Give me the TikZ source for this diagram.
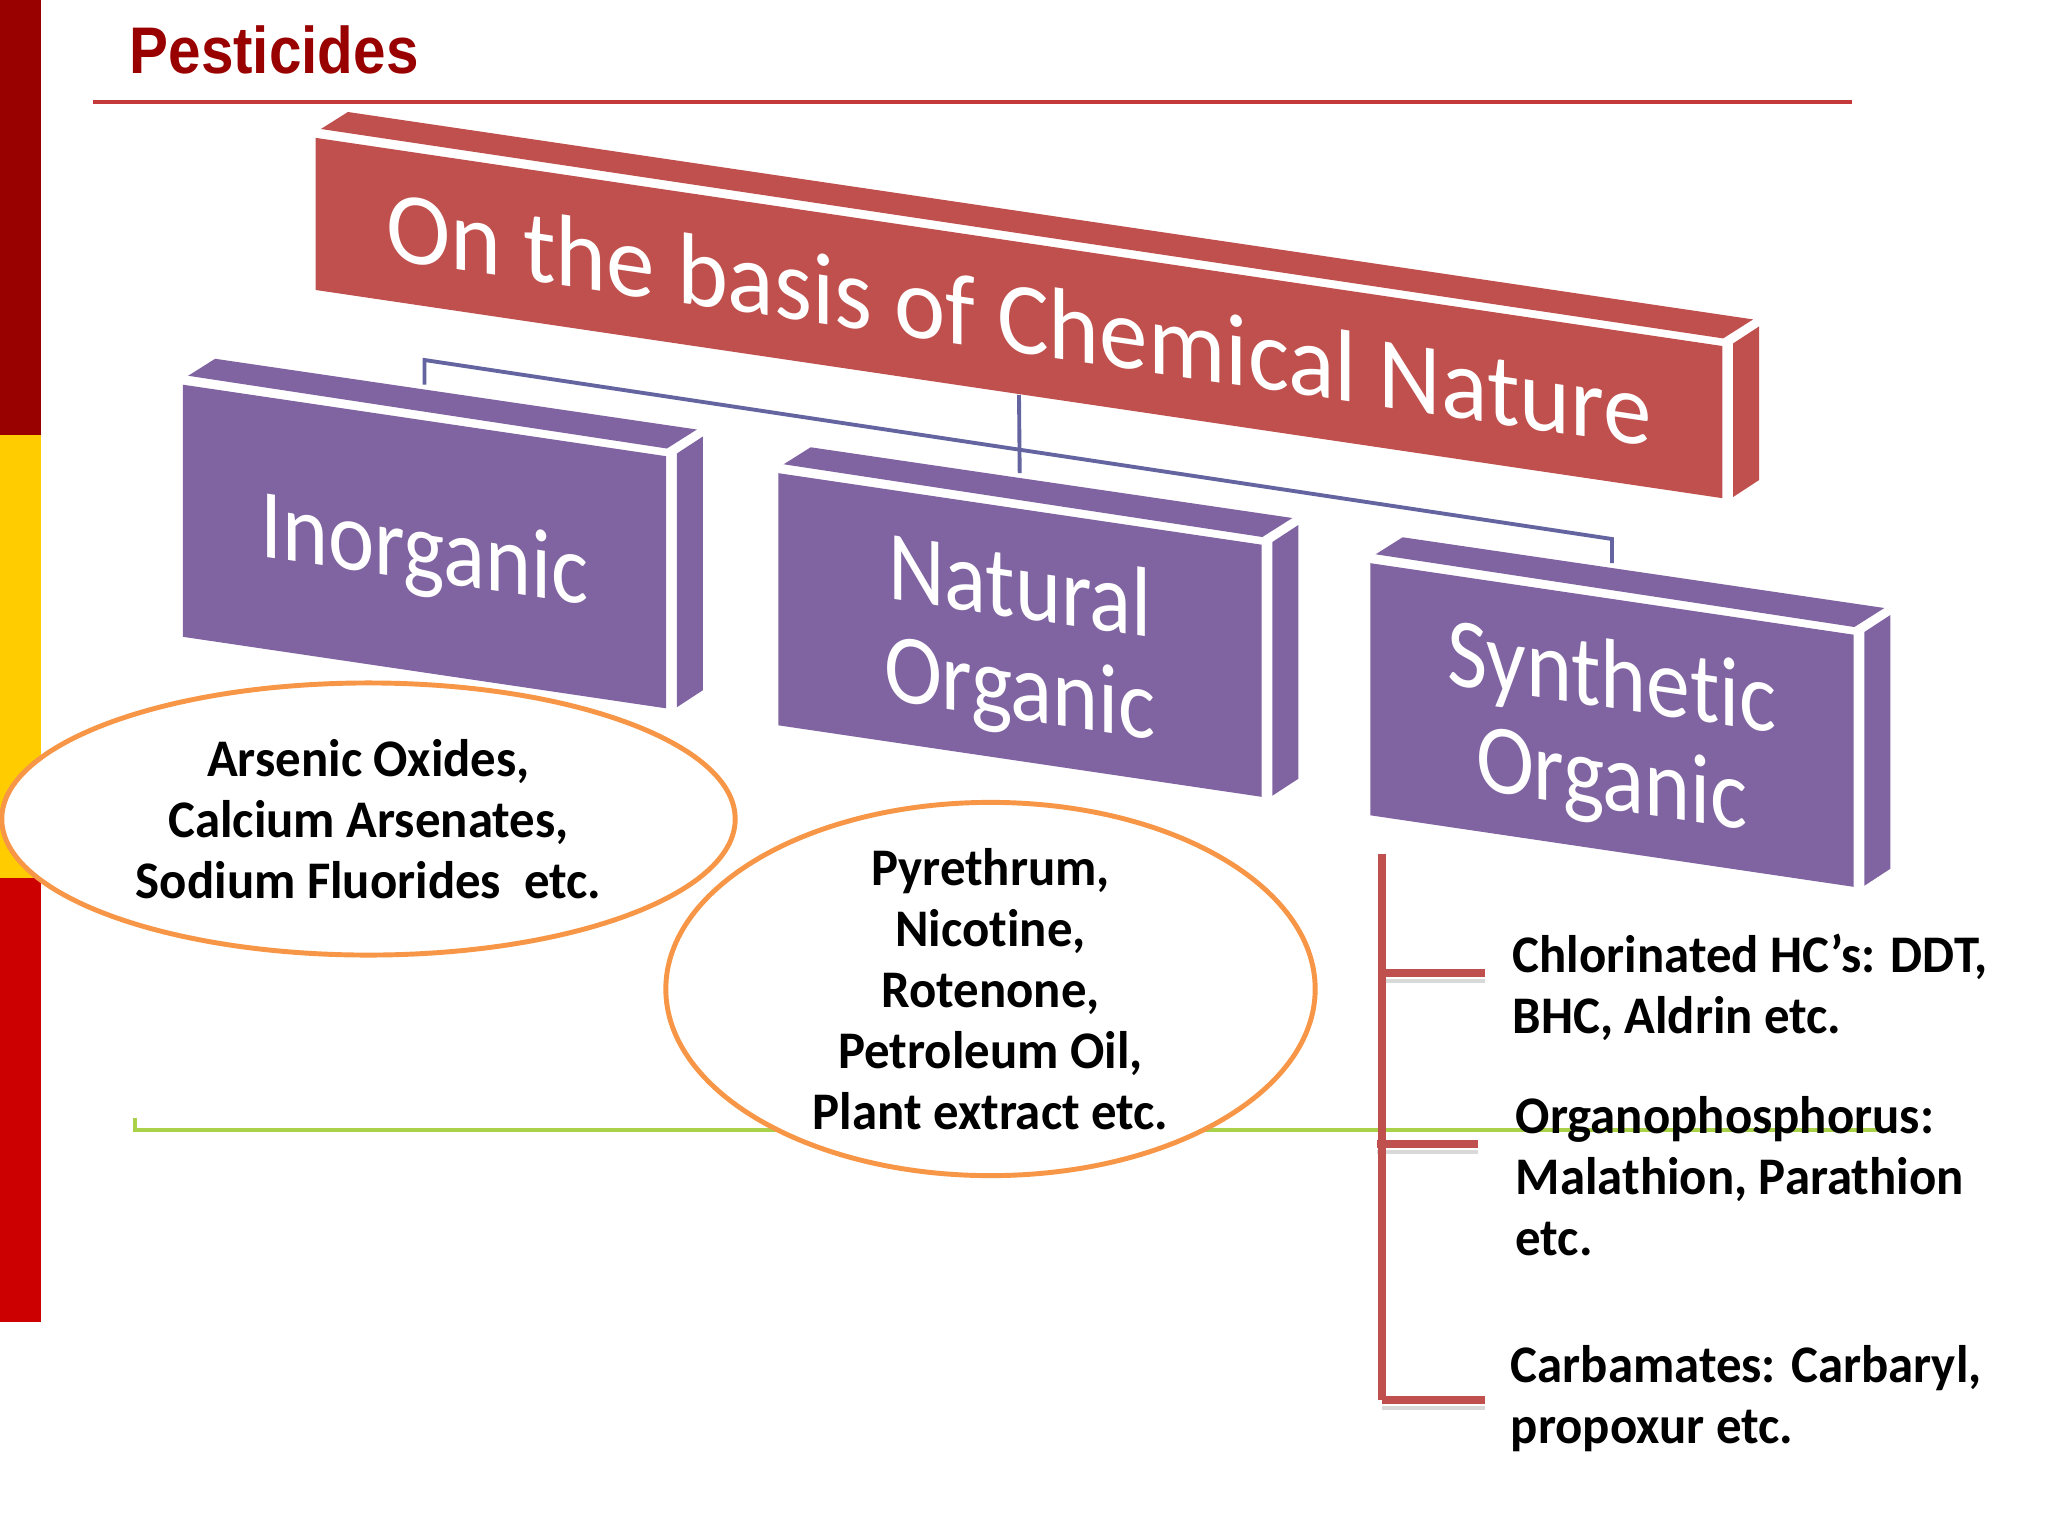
\documentclass[tikz,border=0pt]{standalone}
\usepackage{fontspec}
\setmainfont{Carlito}[Ligatures=NoCommon]
\newfontfamily\headfont{Liberation Sans}
\usepackage{tikz}
\usetikzlibrary{calc,shapes.geometric,backgrounds}

\definecolor{barDark}{HTML}{990000}
\definecolor{barGold}{HTML}{FFCC00}
\definecolor{barRed}{HTML}{CC0000}
\definecolor{ruleRed}{HTML}{C4393A}
\definecolor{boxRed}{HTML}{C0504D}
\definecolor{boxPurple}{HTML}{8064A2}
\definecolor{busBlue}{HTML}{6464A0}
\definecolor{ringOrange}{HTML}{F79646}
\definecolor{lineGreen}{HTML}{A9D24A}

\newcommand{\lowerline}{\rule{0pt}{21.5pt}}

\tikzset{
    face/.style={yslant=-0.148,yscale=1.13,transform shape,inner sep=0pt,text=white,
        fill=boxPurple,minimum width=4.83cm,minimum height=2.23cm,
        align=center,font=\fontsize{24.9}{25.6}\selectfont},
    titleface/.style={yslant=-0.148,yscale=1.05,transform shape,inner sep=0pt,text=white,
        fill=boxRed,minimum width=14.06cm,minimum height=1.448cm,
        align=center,font=\fontsize{27.6}{29}\selectfont},
    ring/.style={ellipse,draw=ringOrange,line width=1.4pt,fill=white,inner sep=0pt,
        yscale=1.04,transform shape,align=center,
        font=\bfseries\fontsize{14.45}{16.7}\selectfont},
    item/.style={anchor=west,inner sep=0pt,yscale=1.04,transform shape,align=left,
        font=\bfseries\fontsize{14.45}{16.7}\selectfont},
    bus/.style={draw=busBlue,line width=1.1pt},
    stem/.style={draw=boxRed,line width=2.3pt},
    stemshade/.style={draw=black!15,line width=1.4pt}
}

\begin{document}
\begin{tikzpicture}[x=0.01cm,y=-0.01cm]
    \useasboundingbox (0,0) rectangle (2048,1536);
    \fill[barDark] (0,0) rectangle (41,435);
    \fill[barGold] (0,435) rectangle (41,878);
    \fill[barRed] (0,878) rectangle (41,1322);

    \node[anchor=west,inner sep=0pt,yscale=1.13,transform shape,text=barDark,
        font=\headfont\bfseries\fontsize{16.6}{18}\selectfont] (Head) at (129,50) {Pesticides};
    \coordinate (RuleL) at (93,102);
    \coordinate (RuleR) at (1852,102);
    \draw[ruleRed,line width=0.9pt] (RuleL) -- (RuleR);

    \node[titleface] (Title) at (1019,318) {On the basis of Chemical Nature};
    \node[face] (Inorg) at (424.5,546.5) {\lowerline Inorganic};
    \node[face] (NatOrg) at (1020,635) {\lowerline Natural\\Organic};
    \node[face] (SynOrg) at (1612,725) {\lowerline Synthetic\\Organic};

    \foreach \n/\c in {Title/boxRed,Inorg/boxPurple,NatOrg/boxPurple,SynOrg/boxPurple} {
        \fill[\c] ($(\n.north west)+(6,-8)$) -- ($(\n.north west)+(33,-25)$)
            -- ($(\n.north east)+(30,-26)$) -- ($(\n.north east)+(0,-7)$) -- cycle;
        \fill[\c] ($(\n.north east)+(10,-2)$) -- ($(\n.north east)+(36,-19)$)
            -- ($(\n.south east)+(36,-19)$) -- ($(\n.south east)+(10,-2)$) -- cycle;
    }

    \coordinate (BusL) at (Inorg.north |- 0,360);
    \coordinate (BusR) at (SynOrg.north |- 0,539);
    \begin{scope}[on background layer]
        \draw[bus,shorten <=0.35cm,shorten >=0.35cm] (Inorg.north) -- (BusL) -- (BusR) -- (SynOrg.north);
        \draw[bus,shorten >=0.35cm] (Title.south) -- (NatOrg.north);
    \end{scope}

    \coordinate (GreenTick) at (135,1118);
    \coordinate (GreenL) at (135,1130);
    \coordinate (GreenR) at (1895,1130);
    \draw[lineGreen,line width=1pt] (GreenTick) -- (GreenL) -- (GreenR);

    \node[ring,minimum width=7.33cm,minimum height=2.615cm] (ArsRing) at (368.5,819)
        {Arsenic Oxides,\\Calcium Arsenates,\\Sodium Fluorides\ \ etc.};
    \node[ring,inner ysep=-8pt,minimum width=6.49cm,minimum height=3.587cm] (PyrRing) at (990.5,989)
        {Pyrethrum,\\Nicotine,\\Rotenone,\\Petroleum Oil,\\Plant extract etc.};

    \coordinate (StemTop) at (1382,854);
    \coordinate (StemEnd) at (1382,1400);
    \coordinate (TwigA) at (1485,973);
    \coordinate (TwigB) at (1478,1144);
    \coordinate (TwigC) at (1485,1400);
    \coordinate (TwigAs) at (1382,973);
    \coordinate (TwigBs) at (1377,1144);
    \foreach \a/\b in {TwigAs/TwigA,TwigBs/TwigB,StemEnd/TwigC} {
        \draw[stemshade] ($(\a)+(0,8)$) -- ($(\b)+(0,8)$);
    }
    \draw[stem] (StemTop) -- (StemEnd);
    \foreach \a/\b in {TwigAs/TwigA,TwigBs/TwigB,StemEnd/TwigC} {
        \draw[stem] (\a) -- (\b);
    }

    \node[item] (Chlor) at (1512,987) {Chlorinated HC’s: DDT,\\BHC, Aldrin etc.};
    \node[item] (Organo) at (1515,1176) {Organophosphorus:\\Malathion, Parathion\\etc.};
    \node[item] (Carba) at (1510,1399) {Carbamates: Carbaryl,\\propoxur etc.};
\end{tikzpicture}
\end{document}
